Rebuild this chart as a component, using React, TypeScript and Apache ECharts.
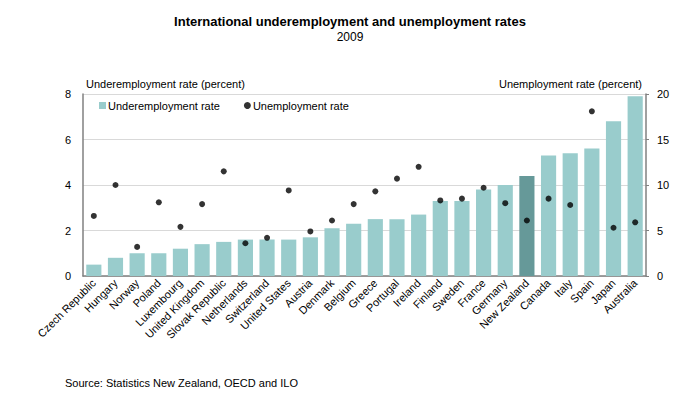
import React, { useEffect, useRef } from "react";
import * as echarts from "echarts";

const categories = [
  "Czech Republic", "Hungary", "Norway", "Poland", "Luxembourg", "United Kingdom",
  "Slovak Republic", "Netherlands", "Switzerland", "United States", "Austria", "Denmark",
  "Belgium", "Greece", "Portugal", "Ireland", "Finland", "Sweden", "France", "Germany",
  "New Zealand", "Canada", "Italy", "Spain", "Japan", "Australia",
];
const underemployment = [
  0.5, 0.8, 1.0, 1.0, 1.2, 1.4, 1.5, 1.6, 1.6, 1.6, 1.7, 2.1, 2.3, 2.5, 2.5, 2.7,
  3.3, 3.3, 3.8, 4.0, 4.4, 5.3, 5.4, 5.6, 6.8, 7.9,
];
const unemployment = [
  6.6, 10.0, 3.2, 8.1, 5.4, 7.9, 11.5, 3.6, 4.2, 9.4, 4.9, 6.1, 7.9, 9.3, 10.7, 12.0,
  8.3, 8.5, 9.7, 8.0, 6.1, 8.5, 7.8, 18.1, 5.3, 5.9,
];
const leftTicks = [0, 2, 4, 6, 8];
const rightTicks = [0, 5, 10, 15, 20];
const highlight = "New Zealand";

const FONT = "Liberation Sans, Arial, sans-serif";

export default function App() {
  const ref = useRef<HTMLDivElement>(null);
  useEffect(() => {
    if (!ref.current) return;
    const chart = echarts.init(ref.current, null, { renderer: "svg" });
    chart.setOption({
      animation: false,
      textStyle: { fontFamily: FONT },
      title: {
        text: "International underemployment and unemployment rates",
        subtext: "2009",
        left: "center",
        top: 10,
        itemGap: 3,
        textStyle: { fontSize: 13, fontWeight: "bold", color: "#000", fontFamily: FONT },
        subtextStyle: { fontSize: 12, color: "#000", fontFamily: FONT },
      },
      legend: {
        left: 94,
        top: 95,
        itemWidth: 7,
        itemHeight: 7,
        itemGap: 24,
        textStyle: { fontSize: 11, color: "#000", fontFamily: FONT, padding: [0, 0, 0, -3] },
        data: [
          { name: "Underemployment rate", icon: "rect", itemStyle: { color: "#99CCCC" } },
          { name: "Unemployment rate", icon: "circle", itemStyle: { color: "#000" } },
        ],
      },
      grid: { left: 83, right: 54, top: 94, bottom: 122 },
      xAxis: {
        type: "category",
        data: categories,
        axisLine: { lineStyle: { color: "#808080", width: 1.5 } },
        axisTick: { show: false },
        axisLabel: {
          rotate: 45,
          interval: 0,
          fontSize: 11,
          color: "#000",
          margin: 5,
          fontFamily: FONT,
        },
      },
      yAxis: [
        {
          type: "value",
          min: leftTicks[0],
          max: leftTicks[leftTicks.length - 1],
          interval: 2,
          axisLine: { show: true, lineStyle: { color: "#808080", width: 1.5 } },
          axisTick: { show: false },
          axisLabel: { fontSize: 11, color: "#000", margin: 12, fontFamily: FONT },
          splitLine: { lineStyle: { color: "#d9d9d9", width: 1 } },
        },
        {
          type: "value",
          min: rightTicks[0],
          max: rightTicks[rightTicks.length - 1],
          interval: 5,
          position: "right",
          axisLine: { show: true, lineStyle: { color: "#808080", width: 1.5 } },
          axisTick: { show: true, length: 3, inside: false, lineStyle: { color: "#808080" } },
          axisLabel: { fontSize: 11, color: "#000", margin: 11, fontFamily: FONT },
          splitLine: { show: false },
        },
      ],
      series: [
        {
          name: "Underemployment rate",
          type: "bar",
          yAxisIndex: 0,
          barCategoryGap: "30%",
          data: underemployment.map((v, i) => ({
            value: v,
            itemStyle: { color: categories[i] === highlight ? "#669999" : "#99CCCC" },
          })),
          itemStyle: { color: "#99CCCC" },
        },
        {
          name: "Unemployment rate",
          type: "scatter",
          yAxisIndex: 1,
          symbol: "circle",
          symbolSize: 6,
          itemStyle: { color: "#000" },
          data: unemployment,
          z: 5,
        },
      ],
      graphic: [
        {
          type: "text",
          left: 86,
          top: 78,
          style: { text: "Underemployment rate (percent)", fontSize: 11, fill: "#000", fontFamily: FONT },
        },
        {
          type: "text",
          right: 58,
          top: 78,
          style: { text: "Unemployment rate (percent)", fontSize: 11, fill: "#000", fontFamily: FONT },
        },
        {
          type: "text",
          left: 65,
          top: 377,
          style: { text: "Source: Statistics New Zealand, OECD and ILO", fontSize: 11, fill: "#000", fontFamily: FONT },
        },
      ],
    });
    return () => chart.dispose();
  }, []);
  return <div ref={ref} style={{ width: 700, height: 398, position: "absolute", left: 0, top: 0 }} />;
}
